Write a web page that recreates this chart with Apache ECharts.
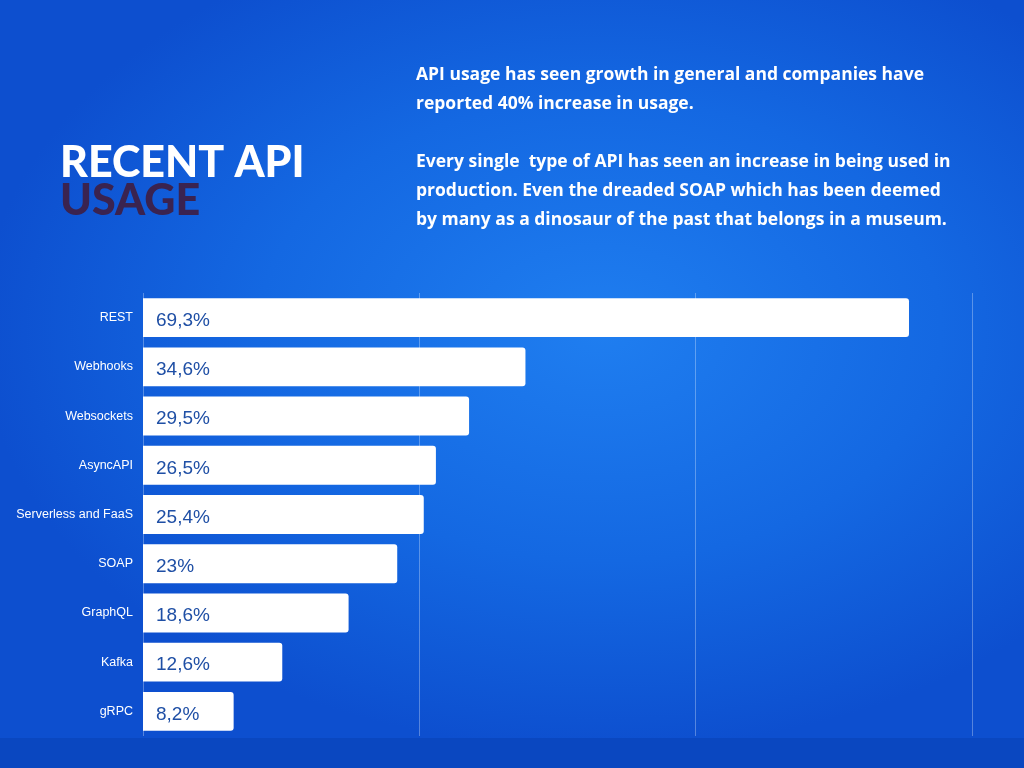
<!DOCTYPE html>
<html><head><meta charset="utf-8">
<script src="https://cdn.jsdelivr.net/npm/echarts@6/dist/echarts.min.js"></script>
<style>
html,body{margin:0;width:1024px;height:768px;overflow:hidden}
body{background:radial-gradient(ellipse 620px 420px at 600px 330px,#1f7ef0 0%,#1468e2 55%,#0d4fcf 100%);}
#band{position:absolute;left:0;top:738px;width:1024px;height:30px;background:#0a47c0}
#c{position:absolute;left:0;top:0;width:1024px;height:768px}
</style></head><body>
<div id="band"></div>
<div id="c"></div>
<script>
const categories=['REST','Webhooks','Websockets','AsyncAPI','Serverless and FaaS','SOAP','GraphQL','Kafka','gRPC'];
const values=[69.3,34.6,29.5,26.5,25.4,23,18.6,12.6,8.2];
const ticks=[0,25,50,75];
const chart=echarts.init(document.getElementById('c'));
chart.setOption({
  backgroundColor:'transparent',
  graphic:[
    {type:'text',left:60,top:142,style:{text:'RECENT API',fill:'#ffffff',font:'900 43px Lato'}},
    {type:'text',left:60,top:180,style:{text:'USAGE',fill:'#3a2350',font:'900 43px Lato'}},
    {type:'text',left:416,top:61,style:{text:'API usage has seen growth in general and companies have\nreported 40% increase in usage.\n\nEvery single  type of API has seen an increase in being used in\nproduction. Even the dreaded SOAP which has been deemed\nby many as a dinosaur of the past that belongs in a museum.',fill:'#ffffff',font:'bold 17.5px "Open Sans"',lineHeight:29}}
  ],
  grid:{left:143,right:52,top:293,bottom:32},
  xAxis:{type:'value',min:ticks[0],max:ticks[ticks.length-1],interval:25,axisLabel:{show:false},axisLine:{show:false},axisTick:{show:false},
    splitLine:{lineStyle:{color:'rgba(255,255,255,0.3)',width:1}}},
  yAxis:{type:'category',inverse:true,data:categories,axisLine:{show:false},axisTick:{show:false},
    axisLabel:{color:'#ffffff',fontSize:12.5,fontFamily:'Liberation Sans',margin:10,padding:[0,0,6,0]}},
  series:[{type:'bar',data:values,barCategoryGap:'21%',
    itemStyle:{color:'#ffffff',borderRadius:[0,3,3,0]},
    label:{show:true,position:'insideLeft',offset:[8,3],color:'#1f4fa5',fontSize:19,fontFamily:'Liberation Sans',
      formatter:p=>String(p.value).replace('.',',')+'%'}}]
});
</script></body></html>
